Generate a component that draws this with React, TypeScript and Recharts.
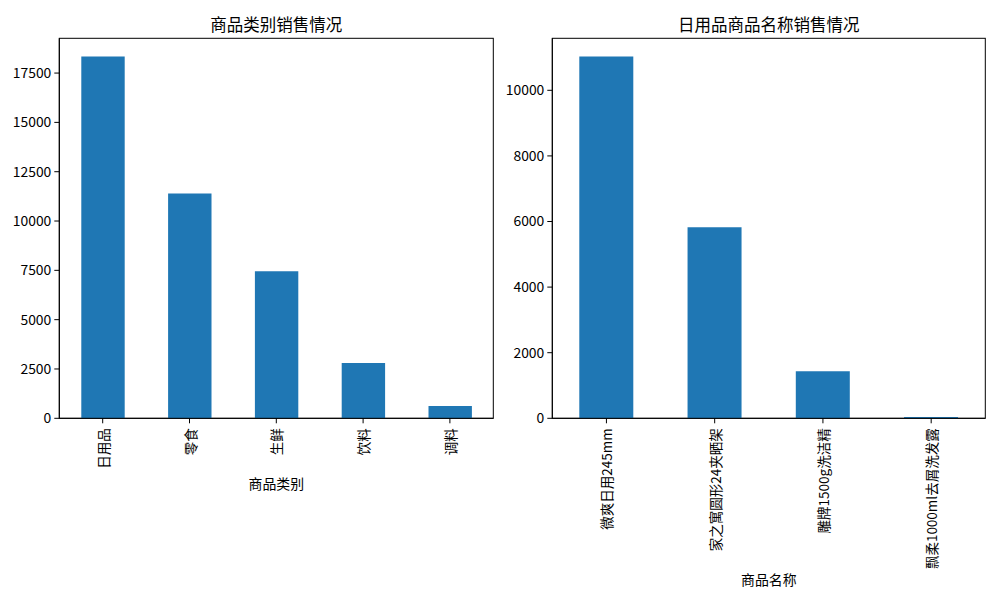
import React from 'react';
import { BarChart, Bar, XAxis, YAxis } from 'recharts';

const categoryNames = ['日用品', '零食', '生鲜', '饮料', '调料'];
const categorySales = [18345, 11393, 7459, 2800, 623];
const categoryTicks = [0, 2500, 5000, 7500, 10000, 12500, 15000, 17500];

const productNames = ['微爽日用245mm', '家之寓圆形24夹晒架', '雕牌1500g洗洁精', '飘柔1000ml去屑洗发露'];
const productSales = [11034, 5822, 1436, 40];
const productTicks = [0, 2000, 4000, 6000, 8000, 10000];

const leftData = categoryNames.map((name, i) => ({ name, value: categorySales[i] }));
const rightData = productNames.map((name, i) => ({ name, value: productSales[i] }));

const FONT = '"Noto Sans CJK SC", "DejaVu Sans", sans-serif';
const BLUE = '#1f77b4';
const PLOT_TOP = 38.3;
const PLOT_BOTTOM = 418.3;

const RotTick = (props: any) => {
  const { x, y, payload } = props;
  return (
    <text
      x={0}
      y={0}
      transform={`translate(${x},${y + 3}) rotate(-90)`}
      textAnchor="end"
      dominantBaseline="central"
      fontSize={13.5}
      fontFamily={FONT}
      fill="#000"
    >
      {payload.value}
    </text>
  );
};

function Panel(props: {
  data: any[];
  ticks: number[];
  left: number;
  plotLeft: number;
  plotRight: number;
  barSize: number;
  title: string;
  xLabel: string;
  labelOffset: number;
}) {
  const { data, ticks, left, plotLeft, plotRight, barSize, title, xLabel, labelOffset } = props;
  const yAxisWidth = 50;
  return (
    <div style={{ position: 'absolute', left, top: 0, width: 500, height: 600 }}>
      <BarChart
        width={500}
        height={600}
        data={data}
        margin={{ top: PLOT_TOP, right: 500 - plotRight, left: plotLeft - yAxisWidth, bottom: 600 - PLOT_BOTTOM - 182 }}
        style={{ fontFamily: FONT, overflow: 'visible' }}
      >
        <XAxis
          dataKey="name"
          height={182}
          interval={0}
          tick={<RotTick />}
          tickSize={5}
          axisLine={{ stroke: '#000' }}
          tickLine={{ stroke: '#000' }}
          label={{ value: xLabel, position: 'insideBottom', offset: labelOffset, fontSize: 13.9, fill: '#000', fontFamily: FONT }}
        />
        <YAxis
          width={yAxisWidth}
          domain={[0, (dataMax: number) => dataMax * 1.05]}
          ticks={ticks}
          interval={0}
          tickSize={5}
          tickMargin={3}
          axisLine={{ stroke: '#000' }}
          tickLine={{ stroke: '#000' }}
          tick={{ fontSize: 13.9, fill: '#000', fontFamily: FONT }}
        />
        <Bar dataKey="value" fill={BLUE} barSize={barSize} isAnimationActive={false} />
        <rect
          x={plotLeft}
          y={PLOT_TOP}
          width={plotRight - plotLeft}
          height={PLOT_BOTTOM - PLOT_TOP}
          fill="none"
          stroke="#000"
          strokeWidth={1}
        />
        <text
          x={(plotLeft + plotRight) / 2}
          y={24}
          textAnchor="middle"
          dominantBaseline="central"
          fontSize={16.5}
          fontFamily={FONT}
          fill="#000"
        >
          {title}
        </text>
      </BarChart>
    </div>
  );
}

export default function App() {
  return (
    <div style={{ position: 'absolute', left: 0, top: 0, width: 1000, height: 600, background: '#fff' }}>
      <Panel
        data={leftData}
        ticks={categoryTicks}
        left={0}
        plotLeft={59.3}
        plotRight={493.3}
        barSize={43.4}
        title="商品类别销售情况"
        xLabel="商品类别"
        labelOffset={111}
      />
      <Panel
        data={rightData}
        ticks={productTicks}
        left={500}
        plotLeft={52.3}
        plotRight={485.3}
        barSize={54}
        title="日用品商品名称销售情况"
        xLabel="商品名称"
        labelOffset={15}
      />
    </div>
  );
}
